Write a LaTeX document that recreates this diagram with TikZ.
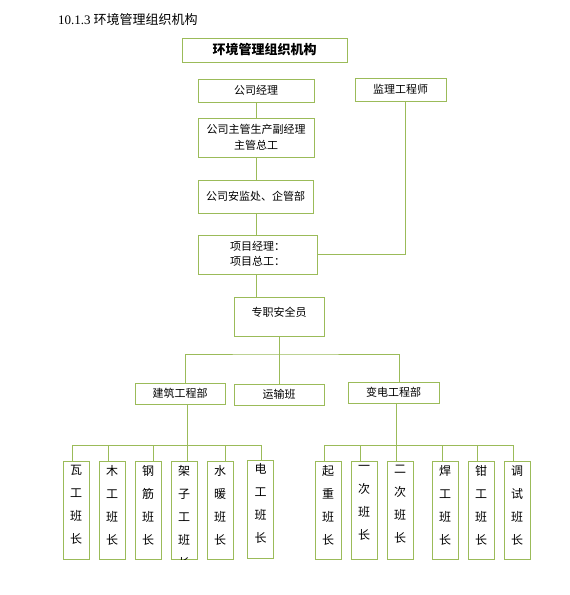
\documentclass[tikz,border=0pt]{standalone}
\usepackage{fontspec}
\setmainfont{Noto Sans CJK SC}
\newfontfamily\numfont{Liberation Serif}
\definecolor{boxgreen}{RGB}{155,187,89}
\begin{document}
\begin{tikzpicture}[x=1pt,y=-1pt,
  box/.style={draw=boxgreen,line width=1pt,inner sep=0pt,fill=white,font=\fontsize{11}{16}\selectfont,align=center},
  kid/.style={draw=boxgreen,line width=1pt,inner sep=0pt,minimum width=26pt,minimum height=98pt},
  vtext/.style={anchor=north,inner sep=0pt,font=\fontsize{12}{23}\selectfont,align=center},
  conn/.style={draw=boxgreen,line width=1pt}]
\useasboundingbox (0,0) rectangle (570,595);
\fill[white] (0,0) rectangle (570,595);
\node[anchor=base west,inner sep=0pt,font=\fontsize{13}{15}\selectfont] (head) at (58,24) {{\numfont 10.1.3} 环境管理组织机构};
\node[box,minimum width=165pt,minimum height=24pt,font=\fontsize{13}{15}\selectfont\bfseries] (title) at (264.5,50) {环境管理组织机构};
\node[box,minimum width=116pt,minimum height=23pt] (gm) at (256,90.5) {公司经理};
\node[box,minimum width=91pt,minimum height=23pt] (sup) at (400.5,89.5) {监理工程师};
\node[box,minimum width=116pt,minimum height=39pt] (vice) at (256,137.5) {公司主管生产副经理\\主管总工};
\node[box,minimum width=115pt,minimum height=33pt] (safety) at (255.5,196.5) {公司安监处、企管部};
\node[box,minimum width=119pt,minimum height=39pt] (pm) at (257.5,254.5) {\begin{tabular}{@{}l@{}}项目经理：\\[-1pt]项目总工：\end{tabular}};
\node[box,minimum width=90pt,minimum height=39pt,text depth=9pt] (officer) at (279,316.5) {专职安全员};
\node[box,minimum width=90pt,minimum height=21pt] (build) at (180,393.5) {建筑工程部};
\node[box,minimum width=90pt,minimum height=21pt] (trans) at (279,394.5) {运输班};
\node[box,minimum width=91pt,minimum height=21pt] (power) at (393.5,392.5) {变电工程部};
% children left
\node[kid] (c1) at (76,510) {};
\node[kid] (c2) at (112,510) {};
\node[kid] (c3) at (148,510) {};
\node[kid] (c4) at (184,510) {};
\node[kid] (c5) at (220,510) {};
\node[kid] (c6) at (260.5,509) {};
\node[vtext] (t1) at (76,465) {瓦\\工\\班\\长};
\node[vtext] (t2) at (112,465) {木\\工\\班\\长};
\node[vtext] (t3) at (148,465) {钢\\筋\\班\\长};
\begin{scope}
\clip (c4.south west) rectangle (c4.north east);
\node[vtext] (t4) at (184,465) {架\\子\\工\\班\\长};
\end{scope}
\node[vtext] (t5) at (220,465) {水\\暖\\班\\长};
\node[vtext] (t6) at (260.5,463) {电\\工\\班\\长};
% children right
\node[kid] (d1) at (328,510) {};
\node[kid] (d2) at (364,510) {};
\node[kid] (d3) at (400,510) {};
\node[kid] (d4) at (445,510) {};
\node[kid] (d5) at (481,510) {};
\node[kid] (d6) at (517,510) {};
\node[vtext] (u1) at (328,465) {起\\重\\班\\长};
\node[vtext] (u2) at (364,465) {一\\次\\班\\长};
\node[vtext] (u3) at (400,465) {二\\次\\班\\长};
\node[vtext] (u4) at (445,465) {焊\\工\\班\\长};
\node[vtext] (u5) at (481,465) {钳\\工\\班\\长};
\node[vtext] (u6) at (517,465) {调\\试\\班\\长};
% connectors
\coordinate (bus) at (279,354);
\coordinate (lb) at (187,445);
\coordinate (rb) at (396,445);
\draw[conn] (gm.south) -- (vice.north);
\draw[conn] (vice.south) -- (vice.south |- safety.north);
\draw[conn] (safety.south -| vice.south) -- (vice.south |- pm.north);
\draw[conn] (vice.south |- pm.south) -- (vice.south |- officer.north);
\draw[conn] ([xshift=4.5pt]sup.south) |- (pm.east);
\draw[conn] (officer.south) -- (trans.north);
\draw[conn] ([xshift=5pt]build.north) |- (bus) -| ([xshift=5.5pt]power.north);
\draw[conn] ([xshift=7pt]build.south) -- ([xshift=3pt]c4.north);
\draw[conn] ([xshift=-4pt]c1.north) |- (lb) -| ([xshift=0.5pt]c6.north);
\draw[conn] ([xshift=-4pt]c2.north) |- (lb);
\draw[conn] ([xshift=5pt]c3.north) |- (lb);
\draw[conn] ([xshift=5pt]c5.north) |- (lb);
\draw[conn] ([xshift=2.5pt]power.south) -- ([xshift=-4pt]d3.north);
\draw[conn] ([xshift=-4pt]d1.north) |- (rb) -| ([xshift=-4pt]d6.north);
\draw[conn] ([xshift=-4pt]d2.north) |- (rb);
\draw[conn] ([xshift=-3pt]d4.north) |- (rb);
\draw[conn] ([xshift=-4pt]d5.north) |- (rb);
\end{tikzpicture}
\end{document}
